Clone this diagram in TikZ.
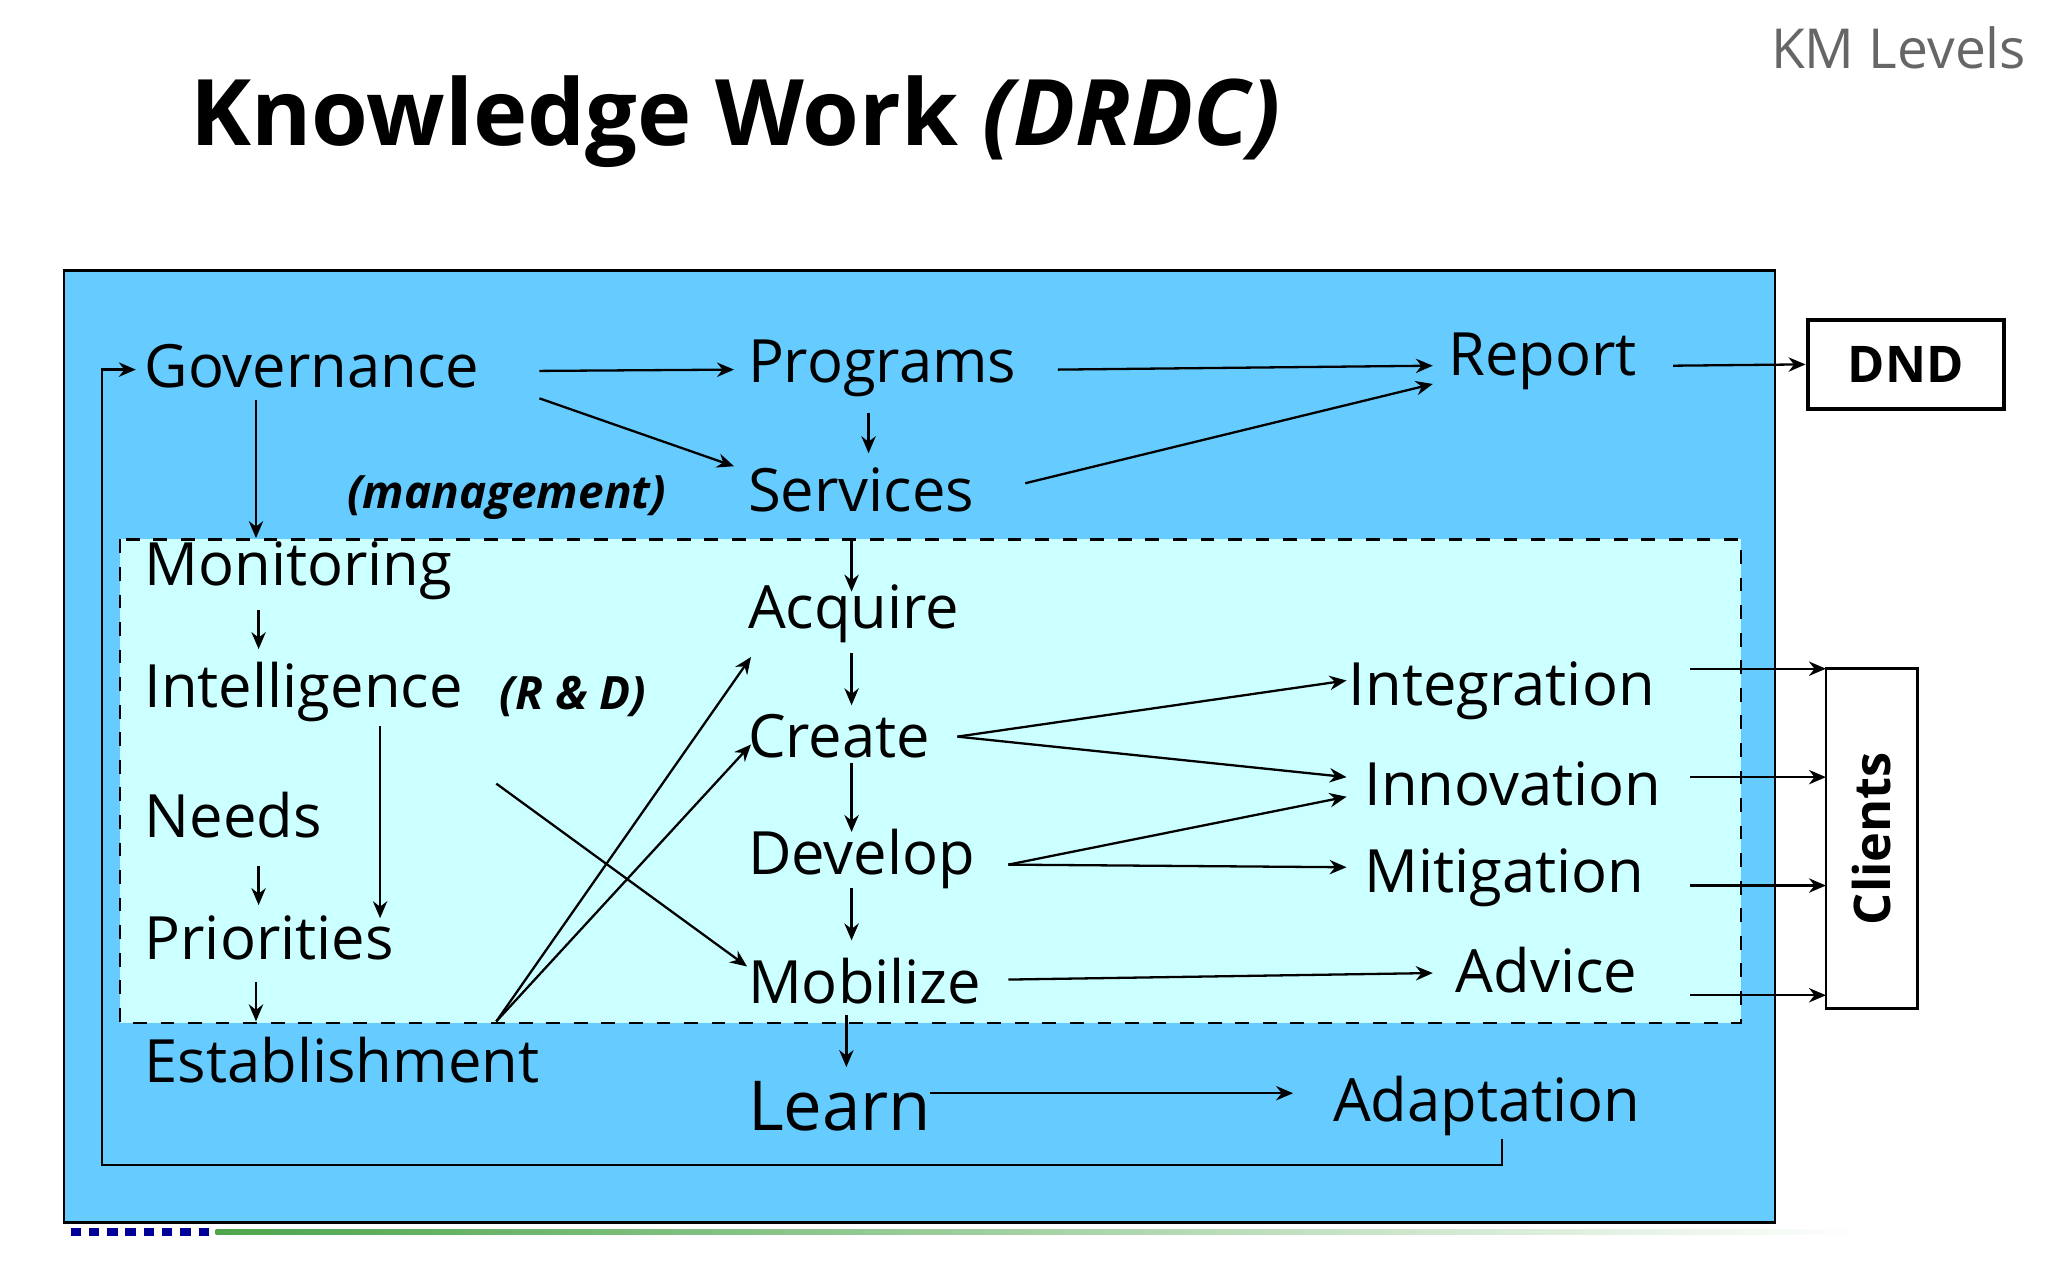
\documentclass[tikz,border=0pt]{standalone}
\usepackage{fontspec}
\setmainfont{Open Sans}
\usetikzlibrary{arrows.meta}
\definecolor{outerb}{HTML}{66CCFF}
\definecolor{innerb}{HTML}{CCFFFF}
\begin{document}
\begin{tikzpicture}[x=0.01cm,y=-0.01cm,
 lab/.style={anchor=west,inner sep=0,font=\fontsize{13}{15}\selectfont},
 ar/.style={-{Stealth[length=1.3mm,width=1.1mm]},line width=0.5pt}]
\useasboundingbox (0,0) rectangle (1568,980);
\fill[white] (0,0) rectangle (1568,980);
\node[anchor=east,inner sep=0,text=gray!80!black,font=\fontsize{12}{14}\selectfont] (km) at (1552,37) {KM Levels};
\node[anchor=west,inner sep=0,font=\fontsize{20}{24}\selectfont\bfseries] (title) at (145,93) {Knowledge Work \textit{(DRDC)}};
\draw[fill=outerb,line width=0.6pt] (49,207) rectangle (1359,936);
\draw[fill=innerb,dashed,line width=0.5pt] (92,413) rectangle (1333,783);
\node[draw,line width=0.9pt,minimum width=1.5cm,minimum height=0.68cm,font=\fontsize{11}{13}\selectfont\bfseries] (dnd) at (1459,279) {DND};
\node[draw,line width=0.6pt,minimum width=0.7cm,minimum height=2.6cm] (clb) at (1433,642) {};
\node[rotate=90,font=\fontsize{11}{13}\selectfont\bfseries] (cl) at (1433,642) {Clients};
% texts
\node[lab] (gov) at (110,280) {Governance};
\node[lab] (prog) at (572,282) {Programs};
\node[lab] (rep) at (1108,277) {Report};
\node[lab,font=\fontsize{10}{12}\selectfont\bfseries\itshape] (mgmt) at (265,381) {(management)};
\node[lab] (serv) at (572,375) {Services};
\node[lab] (mon) at (110,437) {Monitoring};
\node[lab] (acq) at (572,470) {Acquire};
\node[lab] (intel) at (110,530) {Intelligence};
\node[lab,font=\fontsize{10}{12}\selectfont\bfseries\itshape] (rd) at (382,533) {(R \& D)};
\node[lab] (integ) at (1032,529) {Integration};
\node[lab] (cre) at (572,564) {Create};
\node[lab] (innov) at (1044,600) {Innovation};
\node[lab] (needs) at (110,624) {Needs};
\node[lab] (dev) at (572,658) {Develop};
\node[lab] (mit) at (1044,672) {Mitigation};
\node[lab] (prio) at (110,718) {Priorities};
\node[lab] (mob) at (572,751) {Mobilize};
\node[lab] (adv) at (1114,743) {Advice};
\node[lab] (est) at (110,812) {Establishment};
\node[lab,font=\fontsize{15}{17}\selectfont] (learn) at (572,847) {Learn};
\node[lab] (adapt) at (1020,847) {Adaptation};
% arrows
\draw[ar] (413,284) -- (562,283);
\draw[ar] (413,305) -- (562,357);
\draw[ar] (810,283) -- (1097,280);
\draw[ar] (785,370) -- (1097,294);
\draw[ar] (1281,280) -- (dnd.west);
\draw[ar] (196,306) -- (196,412);
\draw[ar] (665,316) -- (665,347);
\draw[ar] (652,413) -- (652,453);
\draw[ar] (198,467) -- (198,497);
\draw[ar] (652,500) -- (652,540);
\draw[ar] (291,556) -- (291,703);
\draw[ar] (733,564) -- (1031,521);
\draw[ar] (733,564) -- (1031,595);
\draw[ar] (652,584) -- (652,637);
\draw[ar] (198,663) -- (198,693);
\draw[ar] (772,662) -- (1031,610);
\draw[ar] (772,662) -- (1031,664);
\draw[ar] (652,680) -- (652,720);
\draw[ar] (380,600) -- (572,740);
\draw[ar] (380,782) -- (575,503);
\draw[ar] (380,782) -- (575,570);
\draw[ar] (196,752) -- (196,782);
\draw[ar] (772,750) -- (1097,745);
\draw[ar] (648,777) -- (648,817);
\draw[ar] (712,837) -- (990,837);
\draw[ar] (1150,872) -- (1150,892) -- (78,892) -- (78,283) -- (104,283);
\foreach \yy in {512,595,678,762} \draw[ar] (1294,\yy) -- (1398,\yy);
% decorative footer
\foreach \xx in {54,68,82,96,110,124,138,152} \fill[blue!60!black] (\xx,940) rectangle ++(8,6);
\shade[left color=green!50!black!70,right color=white] (165,941) rectangle (1430,945);
\end{tikzpicture}
\end{document}
